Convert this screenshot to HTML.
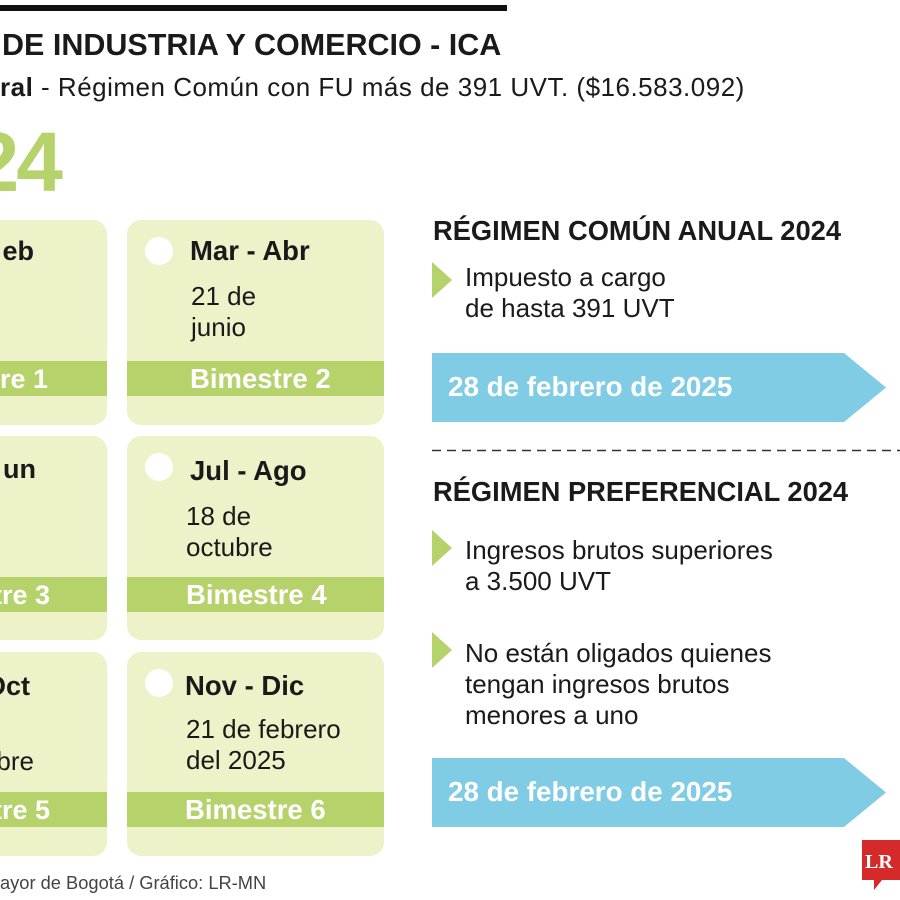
<!DOCTYPE html>
<html><head><meta charset="utf-8"><style>
body{margin:0;width:900px;height:900px;overflow:hidden;background:#fff;position:relative;font-family:"Liberation Sans",sans-serif;color:#1a1a1a}
.a{position:absolute;white-space:nowrap}
.card{position:absolute;background:#eef2c9;border-radius:14px;overflow:hidden}
.band{position:absolute;left:0;right:0;height:35px;background:#b5d26b}
.b{font-weight:bold}
.w{color:#fff}
.c{position:absolute;width:28px;height:28px;border-radius:50%;background:#fff}
.tri{position:absolute;width:0;height:0;border-top:18px solid transparent;border-bottom:18px solid transparent;border-left:20px solid #b5d26b}
.r{text-align:right}
</style></head><body>
<div class="a" style="left:0;top:5px;width:507px;height:6px;background:#111"></div>
<div class="a b" style="left:2px;top:27px;font-size:30.5px;line-height:36px">DE INDUSTRIA Y COMERCIO - ICA</div>
<div class="a" style="left:0;top:71px;font-size:26px;line-height:32px;letter-spacing:0.5px"><b>ral</b> - Régimen Común con FU más de 391 UVT. ($16.583.092)</div>
<div class="a b" style="right:840px;top:114px;font-size:84px;line-height:96px;color:#b5d26b;letter-spacing:-3px">2024</div>

<div class="card" style="left:-20px;top:220px;width:127px;height:205px"><div class="band" style="top:141px"></div></div>
<div class="card" style="left:-20px;top:436px;width:127px;height:204px"><div class="band" style="top:141px"></div></div>
<div class="card" style="left:-20px;top:652px;width:127px;height:204px"><div class="band" style="top:140px"></div></div>
<div class="a b r" style="right:866px;top:235px;font-size:27px;line-height:32px">eb</div>
<div class="a b r w" style="right:852px;top:363px;font-size:27px;line-height:32px">Bimestre 1</div>
<div class="a b r" style="right:864px;top:453px;font-size:27px;line-height:32px">un</div>
<div class="a b r w" style="right:850px;top:579px;font-size:27px;line-height:32px">Bimestre 3</div>
<div class="a b r" style="right:870px;top:670px;font-size:27px;line-height:32px">Oct</div>
<div class="a r" style="right:866px;top:745px;font-size:26px;line-height:32px">octubre</div>
<div class="a b r w" style="right:850px;top:794px;font-size:27px;line-height:32px">Bimestre 5</div>

<div class="card" style="left:127px;top:220px;width:257px;height:205px"><div class="band" style="top:141px"></div></div>
<div class="card" style="left:127px;top:436px;width:257px;height:204px"><div class="band" style="top:141px"></div></div>
<div class="card" style="left:127px;top:652px;width:257px;height:204px"><div class="band" style="top:140px"></div></div>
<div class="c" style="left:145px;top:237px"></div>
<div class="c" style="left:145px;top:453px"></div>
<div class="c" style="left:145px;top:669px"></div>
<div class="a b" style="left:190px;top:235px;font-size:27.5px;line-height:32px">Mar - Abr</div>
<div class="a" style="left:191px;top:281px;font-size:26px;line-height:31px">21 de<br>junio</div>
<div class="a b w" style="left:190px;top:363px;font-size:27.5px;line-height:32px">Bimestre 2</div>
<div class="a b" style="left:190px;top:455px;font-size:27.5px;line-height:32px">Jul - Ago</div>
<div class="a" style="left:186px;top:501px;font-size:26px;line-height:31px">18 de<br>octubre</div>
<div class="a b w" style="left:186px;top:579px;font-size:27.5px;line-height:32px">Bimestre 4</div>
<div class="a b" style="left:185px;top:670px;font-size:27.5px;line-height:32px">Nov - Dic</div>
<div class="a" style="left:186px;top:714px;font-size:26px;line-height:31px">21 de febrero<br>del 2025</div>
<div class="a b w" style="left:185px;top:794px;font-size:27.5px;line-height:32px">Bimestre 6</div>

<div class="a" style="left:0;top:872px;font-size:18.3px;line-height:22px;color:#444">ayor de Bogotá / Gráfico: LR-MN</div>

<div class="a b" style="left:433px;top:215px;font-size:27.3px;line-height:32px">RÉGIMEN COMÚN ANUAL 2024</div>
<div class="tri" style="left:432px;top:262px"></div>
<div class="a" style="left:465px;top:262px;font-size:26px;line-height:31px">Impuesto a cargo<br>de hasta 391 UVT</div>
<svg class="a" style="left:432px;top:353px" width="460" height="70"><polygon points="0,0 412,0 454,34.5 412,69 0,69" fill="#7fcce4"/></svg>
<div class="a b w" style="left:448px;top:371px;font-size:27.8px;line-height:32px">28 de febrero de 2025</div>
<svg class="a" style="left:432px;top:449px" width="468" height="3"><line x1="0" y1="1.5" x2="468" y2="1.5" stroke="#333" stroke-width="1.5" stroke-dasharray="9,6"/></svg>
<div class="a b" style="left:433px;top:476px;font-size:27.3px;line-height:32px">RÉGIMEN PREFERENCIAL 2024</div>
<div class="tri" style="left:432px;top:530px"></div>
<div class="a" style="left:465px;top:535px;font-size:26px;line-height:31px">Ingresos brutos superiores<br>a 3.500 UVT</div>
<div class="tri" style="left:432px;top:632px"></div>
<div class="a" style="left:465px;top:638px;font-size:26px;line-height:31px">No están oligados quienes<br>tengan ingresos brutos<br>menores a uno</div>
<svg class="a" style="left:432px;top:758px" width="460" height="70"><polygon points="0,0 412,0 454,34.5 412,69 0,69" fill="#7fcce4"/></svg>
<div class="a b w" style="left:448px;top:776px;font-size:27.8px;line-height:32px">28 de febrero de 2025</div>

<svg class="a" style="left:862px;top:840px" width="38" height="52"><polygon points="0,0 38,0 38,40 20,40 12,50 12,40 0,40" fill="#d42a2a"/><text x="3" y="28" font-family="Liberation Serif,serif" font-weight="bold" font-size="20" fill="#fff">LR</text></svg>
</body></html>
